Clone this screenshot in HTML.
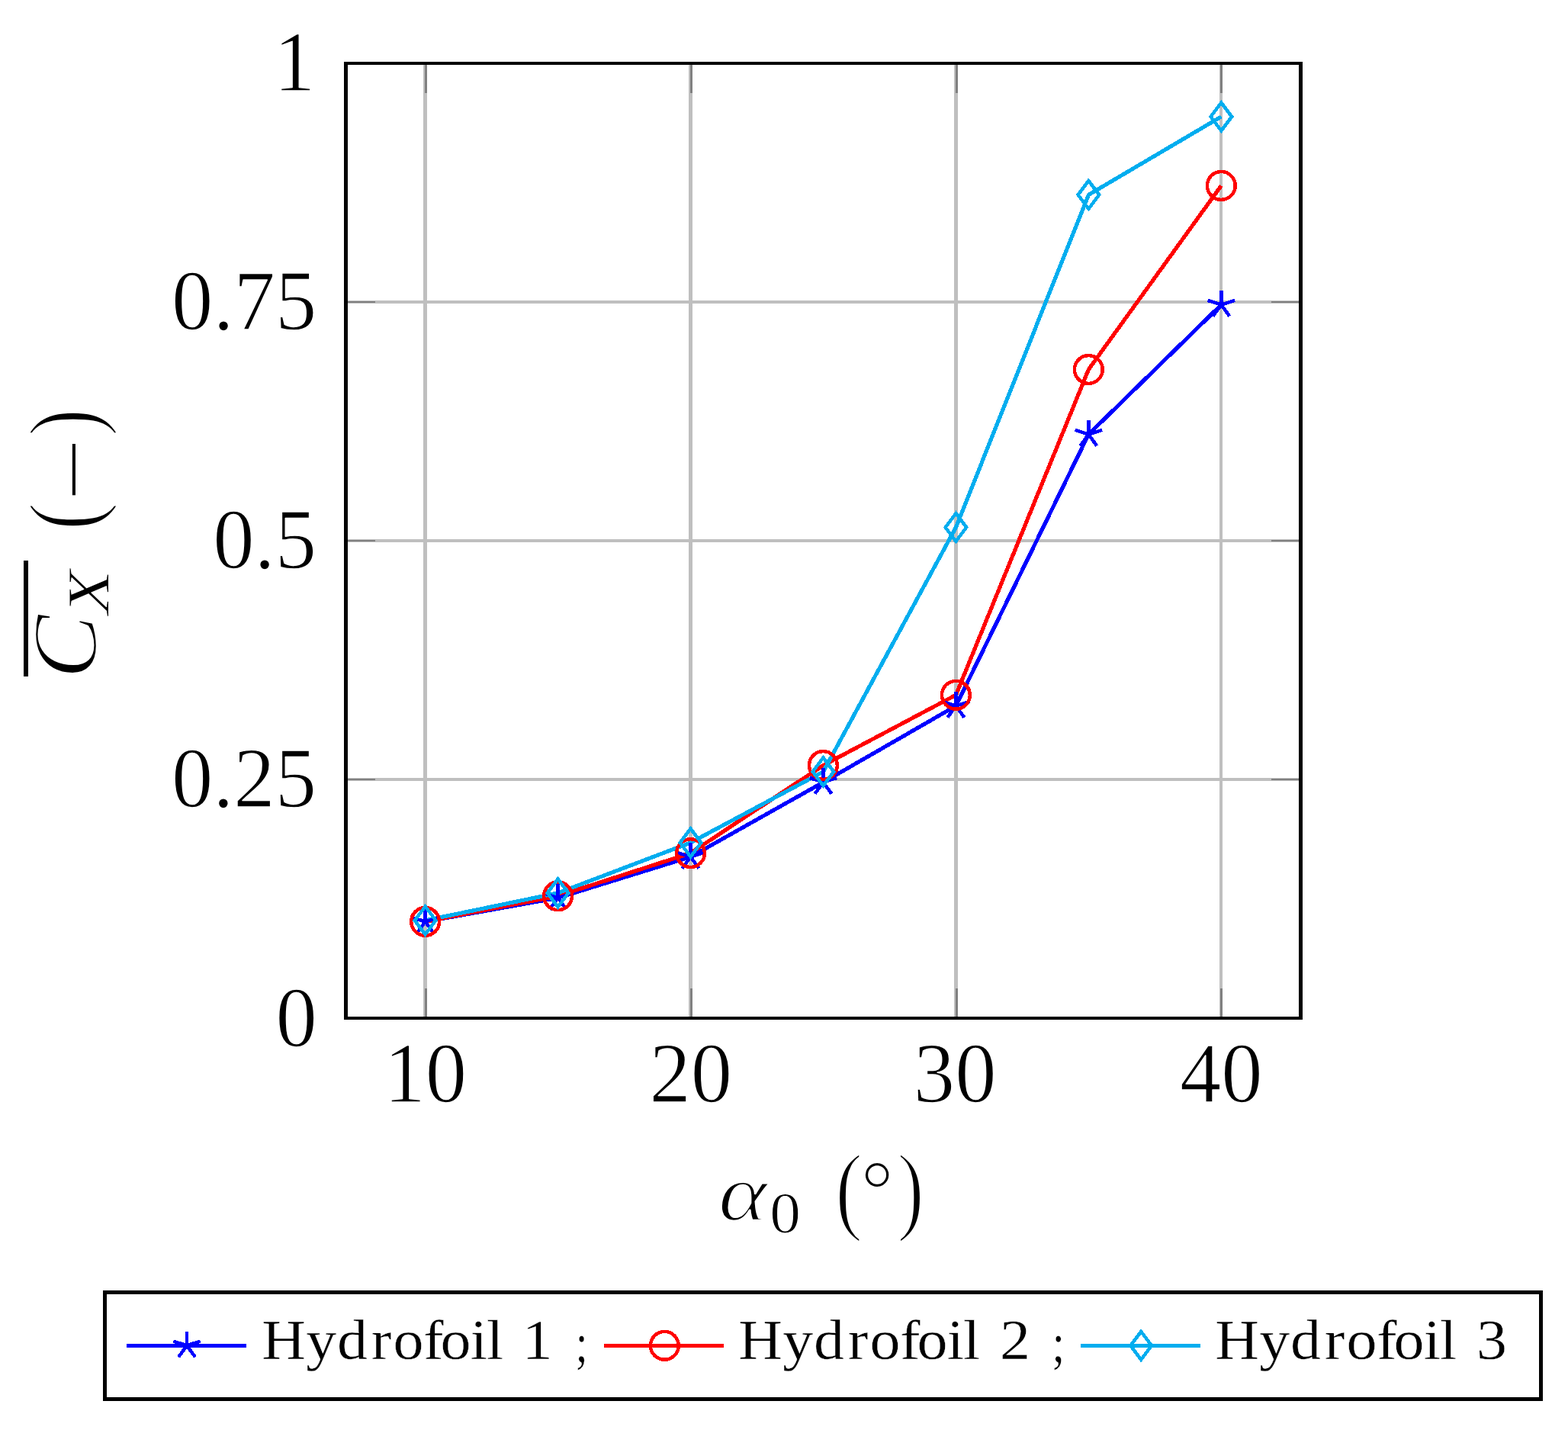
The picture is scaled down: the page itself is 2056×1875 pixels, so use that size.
<!DOCTYPE html>
<html lang="en"><head><meta charset="utf-8"><title>Hydrofoil</title>
<style>html,body{margin:0;padding:0;background:#fff}body{width:2056px;height:1875px;overflow:hidden}svg{display:block}text{font-family:"Liberation Serif","DejaVu Serif",serif;fill:#000;stroke-linejoin:round}</style></head><body>
<svg width="2056" height="1875" viewBox="0 0 2056 1875">
<rect x="0" y="0" width="2056" height="1875" fill="#fff"/>
<g shape-rendering="crispEdges"><rect x="555" y="85" width="5" height="1248" fill="#bfbfbf"/><rect x="903" y="85" width="5" height="1248" fill="#bfbfbf"/><rect x="1251" y="85" width="5" height="1248" fill="#bfbfbf"/><rect x="1599" y="85" width="4" height="1248" fill="#bfbfbf"/><rect x="456" y="394" width="1247" height="4" fill="#bfbfbf"/><rect x="456" y="707" width="1247" height="4" fill="#bfbfbf"/><rect x="456" y="1020" width="1247" height="4" fill="#bfbfbf"/><rect x="557" y="85" width="3" height="37" fill="#808080"/><rect x="557" y="1296" width="3" height="37" fill="#808080"/><rect x="905" y="85" width="3" height="37" fill="#808080"/><rect x="905" y="1296" width="3" height="37" fill="#808080"/><rect x="1253" y="85" width="3" height="37" fill="#808080"/><rect x="1253" y="1296" width="3" height="37" fill="#808080"/><rect x="1600" y="85" width="3" height="37" fill="#808080"/><rect x="1600" y="1296" width="3" height="37" fill="#808080"/><rect x="456" y="395" width="36" height="2" fill="#808080"/><rect x="1667" y="395" width="36" height="2" fill="#808080"/><rect x="456" y="708" width="36" height="2" fill="#808080"/><rect x="1667" y="708" width="36" height="2" fill="#808080"/><rect x="456" y="1021" width="36" height="2" fill="#808080"/><rect x="1667" y="1021" width="36" height="2" fill="#808080"/><path d="M451 81H1708V1337H451ZM456 85V1333H1703V85Z" fill="#000"/></g>
<g fill="none" stroke-width="5.2" stroke-linejoin="round" shape-rendering="crispEdges">
<g stroke="#0000ff"><polyline points="557.6,1208.5 731.55,1177.3 905.5,1123.5 1079.45,1025.7 1253.4,925.6 1427.35,569.6 1601.3,399.6"/></g>
<g stroke="#ff0000"><polyline points="557.6,1208.4 731.55,1174.8 905.5,1118.6 1079.45,1003.5 1253.4,911.3 1427.35,484.5 1601.3,243.45"/></g>
<g stroke="#00adef"><polyline points="557.6,1206.9 731.55,1170.9 905.5,1104.9 1079.45,1011.9 1253.4,691.5 1427.35,255.45 1601.3,153"/></g>
</g>
<g fill="none" stroke-width="4.5" shape-rendering="crispEdges">
<g stroke="#0000ff"><path d="M557.6 1208.5L557.6 1189.9M557.6 1208.5L575.29 1202.75M557.6 1208.5L568.53 1223.55M557.6 1208.5L546.67 1223.55M557.6 1208.5L539.91 1202.75"/><path d="M731.55 1177.3L731.55 1158.7M731.55 1177.3L749.24 1171.55M731.55 1177.3L742.48 1192.35M731.55 1177.3L720.62 1192.35M731.55 1177.3L713.86 1171.55"/><path d="M905.5 1123.5L905.5 1104.9M905.5 1123.5L923.19 1117.75M905.5 1123.5L916.43 1138.55M905.5 1123.5L894.57 1138.55M905.5 1123.5L887.81 1117.75"/><path d="M1079.45 1025.7L1079.45 1007.1M1079.45 1025.7L1097.14 1019.95M1079.45 1025.7L1090.38 1040.75M1079.45 1025.7L1068.52 1040.75M1079.45 1025.7L1061.76 1019.95"/><path d="M1253.4 925.6L1253.4 907M1253.4 925.6L1271.09 919.85M1253.4 925.6L1264.33 940.65M1253.4 925.6L1242.47 940.65M1253.4 925.6L1235.71 919.85"/><path d="M1427.35 569.6L1427.35 551M1427.35 569.6L1445.04 563.85M1427.35 569.6L1438.28 584.65M1427.35 569.6L1416.42 584.65M1427.35 569.6L1409.66 563.85"/><path d="M1601.3 399.6L1601.3 381M1601.3 399.6L1618.99 393.85M1601.3 399.6L1612.23 414.65M1601.3 399.6L1590.37 414.65M1601.3 399.6L1583.61 393.85"/></g>
<g stroke="#ff0000"><circle cx="557.6" cy="1208.4" r="18.4"/><circle cx="731.55" cy="1174.8" r="18.4"/><circle cx="905.5" cy="1118.6" r="18.4"/><circle cx="1079.45" cy="1003.5" r="18.4"/><circle cx="1253.4" cy="911.3" r="18.4"/><circle cx="1427.35" cy="484.5" r="18.4"/><circle cx="1601.3" cy="243.45" r="18.4"/></g>
<g stroke="#00adef"><path d="M557.6 1188.5L571.4 1206.9L557.6 1225.3L543.8 1206.9Z"/><path d="M731.55 1152.5L745.35 1170.9L731.55 1189.3L717.75 1170.9Z"/><path d="M905.5 1086.5L919.3 1104.9L905.5 1123.3L891.7 1104.9Z"/><path d="M1079.45 993.5L1093.25 1011.9L1079.45 1030.3L1065.65 1011.9Z"/><path d="M1253.4 673.1L1267.2 691.5L1253.4 709.9L1239.6 691.5Z"/><path d="M1427.35 237.05L1441.15 255.45L1427.35 273.85L1413.55 255.45Z"/><path d="M1601.3 134.6L1615.1 153L1601.3 171.4L1587.5 153Z"/></g>
</g>
<g>
<text transform="translate(358.99 118.7) scale(0.965 1)" font-size="112.6" stroke="#fff" stroke-width="1.4">1</text>
<text transform="translate(225.09 432.11) scale(0.965 1)" font-size="112.6" stroke="#fff" stroke-width="1.4">0.75</text>
<text transform="translate(279.22 745.01) scale(0.965 1)" font-size="112.6" stroke="#fff" stroke-width="1.4">0.5</text>
<text transform="translate(224.89 1057.76) scale(0.965 1)" font-size="112.6" stroke="#fff" stroke-width="1.4">0.25</text>
<text transform="translate(361.55 1371.57) scale(0.965 1)" font-size="112.6" stroke="#fff" stroke-width="1.4">0</text>
<text transform="translate(503.55 1444.77) scale(0.965 1)" font-size="112.6" stroke="#fff" stroke-width="1.4">10</text>
<text transform="translate(851.51 1444.77) scale(0.965 1)" font-size="112.6" stroke="#fff" stroke-width="1.4">20</text>
<text transform="translate(1197.83 1444.77) scale(0.965 1)" font-size="112.6" stroke="#fff" stroke-width="1.4">30</text>
<text transform="translate(1547.02 1444.77) scale(0.965 1)" font-size="112.6" stroke="#fff" stroke-width="1.4">40</text>
</g>
<g>
<text transform="translate(941.87 1600.19) scale(1.1571 1)" font-size="105.91" font-style="italic" stroke="#fff" stroke-width="2.5">α</text>
<text transform="translate(1009.3 1615.79) scale(1.0754 1)" font-size="75.7" stroke="#fff" stroke-width="1.1">0</text>
<text transform="translate(1095.18 1602.34) scale(0.8345 1)" font-size="128.29" stroke="#fff" stroke-width="2.8">(</text>
<text transform="translate(1128.71 1596.02) scale(1.0015 1)" font-size="106.94" stroke="#fff" stroke-width="2">°</text>
<text transform="translate(1176.41 1602.34) scale(0.8249 1)" font-size="128.29" stroke="#fff" stroke-width="2.8">)</text>
</g>
<rect shape-rendering="crispEdges" x="31" y="735" width="6" height="152" fill="#000"/>
<g transform="translate(124 887) rotate(-90)">
<text transform="translate(-3.27 1.99) scale(1.0448 1)" font-size="121.34" font-style="italic" stroke="#fff" stroke-width="2.4">C</text>
<text transform="translate(81.59 17.6) scale(1.2149 1)" font-size="78.17" font-style="italic" stroke="#fff" stroke-width="1">X</text>
<text transform="translate(191.66 3.33) scale(0.8541 1)" font-size="128.56" stroke="#fff" stroke-width="2.8">(</text>
<text transform="translate(230.56 0.21) scale(1.765 1)" font-size="82">−</text>
<text transform="translate(315.07 3.33) scale(0.8458 1)" font-size="128.56" stroke="#fff" stroke-width="2.8">)</text>
</g>
<path d="M135 1692H2023V1837H135ZM140 1697V1832H2018V1697Z" fill="#000" shape-rendering="crispEdges"/>
<g fill="none" stroke="#0000ff" shape-rendering="crispEdges"><line x1="166.1" y1="1764.3" x2="323.1" y2="1764.3" stroke-width="5.2"/><g stroke-width="4.5"><path d="M245 1764.3L245 1745.7M245 1764.3L262.69 1758.55M245 1764.3L255.93 1779.35M245 1764.3L234.07 1779.35M245 1764.3L227.31 1758.55"/></g></g>
<g fill="none" stroke="#ff0000" shape-rendering="crispEdges"><line x1="792.4" y1="1764.3" x2="949.4" y2="1764.3" stroke-width="5.2"/><g stroke-width="4.5"><circle cx="871.3" cy="1764.3" r="18.4"/></g></g>
<g fill="none" stroke="#00adef" shape-rendering="crispEdges"><line x1="1417.3" y1="1764.3" x2="1574.3" y2="1764.3" stroke-width="5.2"/><g stroke-width="4.5"><path d="M1496.2 1745.9L1510 1764.3L1496.2 1782.7L1482.4 1764.3Z"/></g></g>
<g>
<text transform="scale(1.08 1)" x="317.76 371.45 409.28 450.71 477.29 513.9 534.74 571.03 590.66 609.16 634.14" y="1782.1" font-size="74" stroke="#fff" stroke-width="0.4">Hydrofoil 1</text>
<text transform="translate(754.81 1785.08) scale(0.7809 1)" font-size="72.93" stroke="#fff" stroke-width="0.4">;</text>
<text transform="scale(1.08 1)" x="896.46 950.16 987.98 1029.41 1055.99 1092.61 1113.44 1149.73 1169.36 1187.86 1213.81" y="1782.1" font-size="74" stroke="#fff" stroke-width="0.4">Hydrofoil 2</text>
<text transform="translate(1379.47 1785.08) scale(0.818 1)" font-size="72.93" stroke="#fff" stroke-width="0.4">;</text>
<text transform="scale(1.08 1)" x="1475.17 1528.86 1566.69 1608.11 1634.69 1671.31 1692.15 1728.44 1748.07 1766.57 1792.66" y="1782.1" font-size="74" stroke="#fff" stroke-width="0.4">Hydrofoil 3</text>
</g>
</svg></body></html>
